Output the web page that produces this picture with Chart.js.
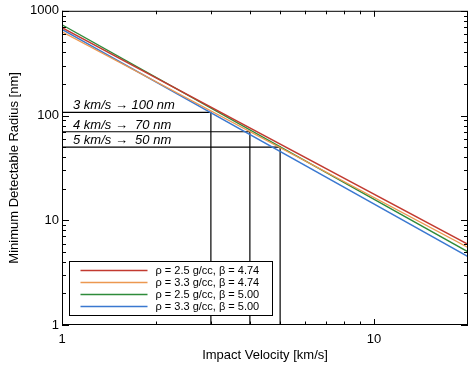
<!DOCTYPE html>
<html lang="en">
<head>
<meta charset="UTF-8">
<title>Minimum Detectable Radius</title>
<script src="https://cdn.jsdelivr.net/npm/chart.js"></script>
<style>
  html, body { margin: 0; padding: 0; background: #fff; }
  #wrap { width: 474px; height: 365px; }
</style>
</head>
<body>
<div id="wrap"><canvas id="radius-chart"></canvas></div>
<script>
// end points of each power-law line (km/s)
const velocities = [1, 20];
const seriesLabels = [
  'ρ = 2.5 g/cc, β = 4.74',
  'ρ = 3.3 g/cc, β = 4.74',
  'ρ = 2.5 g/cc, β = 5.00',
  'ρ = 3.3 g/cc, β = 5.00'
];
const seriesColors = ['#c23a30', '#ec9850', '#2e8b3a', '#3a78d0'];
const radiusRho25b474 = [690, 5.9];
const radiusRho33b474 = [630, 5.5];
const radiusRho25b500 = [735, 5.0];
const radiusRho33b500 = [665, 4.5];
const seriesValues = [radiusRho25b474, radiusRho33b474, radiusRho25b500, radiusRho33b500];

// marked speeds and radii
const markVelocity = [3, 4, 5];
const markRadius = [107, 70, 50];
const markText = ['3 km/s \u2192 100 nm', '4 km/s \u2192  70 nm', '5 km/s \u2192  50 nm'];

const xTickValues = [1, 10];
const yTickValues = [1, 10, 100, 1000];

const FONT = '"Liberation Sans", Arial, Helvetica, sans-serif';

const datasets = seriesValues.map((vals, i) => ({
  label: seriesLabels[i],
  data: velocities.map((v, j) => ({ x: v, y: vals[j] })),
  borderColor: seriesColors[i],
  borderWidth: 1.4,
  pointRadius: 0,
  fill: false
}));

markVelocity.forEach((v, i) => {
  datasets.push({
    label: 'mark' + v,
    data: [{ x: 1, y: markRadius[i] }, { x: v, y: markRadius[i] }, { x: v, y: 1 }],
    borderColor: '#000',
    borderWidth: 1.2,
    pointRadius: 0,
    fill: false
  });
});

// box, inward ticks, marker text and legend
const framePlugin = {
  id: 'frame',
  afterDatasetsDraw(chart) {
    const ctx = chart.ctx;
    const a = chart.chartArea;
    const xs = chart.scales.x, ys = chart.scales.y;
    ctx.save();

    // marker text
    ctx.fillStyle = '#000';
    ctx.font = 'italic 13px ' + FONT;
    ctx.textBaseline = 'alphabetic';
    ctx.textAlign = 'left';
    markText.forEach((t, i) => {
      ctx.fillText(t, a.left + 11, ys.getPixelForValue(markRadius[i]) - 3);
    });

    // frame
    ctx.strokeStyle = '#000';
    ctx.lineWidth = 1;
    ctx.strokeRect(a.left + 0.5, a.top + 0.5, a.right - a.left - 1, a.bottom - a.top - 1);

    ctx.beginPath();
    const xMinor = [2, 3, 4, 5, 6, 7, 8, 9];
    xTickValues.forEach(v => {
      const px = Math.round(xs.getPixelForValue(v)) + 0.5;
      ctx.moveTo(px, a.bottom); ctx.lineTo(px, a.bottom - 6);
      ctx.moveTo(px, a.top); ctx.lineTo(px, a.top + 6);
    });
    xMinor.forEach(v => {
      const px = Math.round(xs.getPixelForValue(v)) + 0.5;
      ctx.moveTo(px, a.bottom); ctx.lineTo(px, a.bottom - 3.5);
      ctx.moveTo(px, a.top); ctx.lineTo(px, a.top + 3.5);
    });
    yTickValues.forEach(v => {
      const py = Math.round(ys.getPixelForValue(v)) + 0.5;
      ctx.moveTo(a.left, py); ctx.lineTo(a.left + 7, py);
      ctx.moveTo(a.right, py); ctx.lineTo(a.right - 7, py);
    });
    [1, 10, 100].forEach(d => {
      for (let k = 2; k <= 9; k++) {
        const py = Math.round(ys.getPixelForValue(d * k)) + 0.5;
        ctx.moveTo(a.left, py); ctx.lineTo(a.left + 4, py);
        ctx.moveTo(a.right, py); ctx.lineTo(a.right - 4, py);
      }
    });
    ctx.stroke();

    // legend
    const bx = a.left + 7.5, by = a.bottom - 63.5, bw = 203, bh = 54;
    ctx.fillStyle = '#fff';
    ctx.fillRect(bx, by, bw, bh);
    ctx.strokeStyle = '#000';
    ctx.strokeRect(bx, by, bw, bh);
    ctx.font = '11px ' + FONT;
    ctx.textBaseline = 'middle';
    seriesLabels.forEach((lab, i) => {
      const ry = by + 9 + i * 12;
      ctx.strokeStyle = seriesColors[i];
      ctx.lineWidth = 1.5;
      ctx.beginPath();
      ctx.moveTo(bx + 11, ry); ctx.lineTo(bx + 78, ry);
      ctx.stroke();
      ctx.fillStyle = '#000';
      ctx.fillText(lab, bx + 86, ry);
    });
    ctx.restore();
  }
};

new Chart(document.getElementById('radius-chart').getContext('2d'), {
  type: 'line',
  data: { datasets: datasets },
  options: {
    responsive: true,
    maintainAspectRatio: false,
    animation: false,
    layout: { padding: { top: 10, right: 6, left: 0, bottom: 0 } },
    plugins: { legend: { display: false }, tooltip: { enabled: false } },
    scales: {
      x: {
        type: 'logarithmic',
        min: 1, max: 20,
        afterBuildTicks: s => { s.ticks = xTickValues.map(v => ({ value: v })); },
        afterFit: s => { s.height = 40; },
        grid: { display: false, drawTicks: false },
        border: { display: false },
        ticks: { color: '#000', padding: 7, maxRotation: 0, font: { family: FONT, size: 13 }, callback: v => String(v) },
        title: { display: true, text: 'Impact Velocity [km/s]', color: '#000', padding: { top: 0, bottom: 2 }, font: { family: FONT, size: 13 } }
      },
      y: {
        type: 'logarithmic',
        min: 1, max: 1000,
        afterBuildTicks: s => { s.ticks = yTickValues.map(v => ({ value: v })); },
        afterFit: s => { s.width = 62; },
        grid: { display: false, drawTicks: false },
        border: { display: false },
        ticks: { color: '#000', padding: 3, font: { family: FONT, size: 13 }, callback: v => String(v) },
        title: { display: true, text: 'Minimum Detectable Radius [nm]', color: '#000', padding: { top: 7, bottom: 0 }, font: { family: FONT, size: 13 } }
      }
    }
  },
  plugins: [framePlugin]
});
</script>
</body>
</html>
